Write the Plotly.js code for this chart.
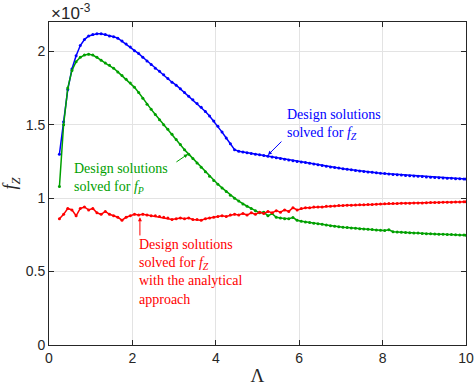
<!DOCTYPE html>
<html><head><meta charset="utf-8">
<script src="https://cdn.plot.ly/plotly-3.0.1.min.js"></script>
<style>html,body{margin:0;padding:0;background:#fff}#chart{width:474px;height:386px}</style>
</head><body><div id="chart"></div>
<script>
const lambda = [0.25,0.35,0.45,0.55,0.65,0.75,0.85,0.95,1.05,1.15,1.25,1.35,1.45,1.55,1.65,1.75,1.85,1.95,2.05,2.15,2.25,2.35,2.45,2.55,2.65,2.75,2.85,2.95,3.05,3.15,3.25,3.35,3.45,3.55,3.65,3.75,3.85,3.95,4.05,4.15,4.25,4.35,4.45,4.55,4.65,4.75,4.85,4.95,5.05,5.15,5.25,5.35,5.45,5.55,5.65,5.75,5.85,5.95,6.05,6.15,6.25,6.35,6.45,6.55,6.65,6.75,6.85,6.95,7.05,7.15,7.25,7.35,7.45,7.55,7.65,7.75,7.85,7.95,8.05,8.15,8.25,8.35,8.45,8.55,8.65,8.75,8.85,8.95,9.05,9.15,9.25,9.35,9.45,9.55,9.65,9.75,9.85,9.95,10.0];
// values in units of 1e-3
const fzSolved = [1.30,1.52,1.74,1.88,1.97,2.04,2.08,2.105,2.115,2.12,2.12,2.115,2.105,2.10,2.09,2.07,2.05,2.03,2.005,1.985,1.96,1.935,1.91,1.885,1.865,1.84,1.815,1.79,1.77,1.745,1.72,1.695,1.67,1.645,1.62,1.59,1.56,1.525,1.49,1.45,1.41,1.37,1.33,1.32,1.315,1.31,1.305,1.30,1.295,1.29,1.285,1.28,1.275,1.27,1.265,1.26,1.255,1.25,1.247,1.243,1.238,1.233,1.228,1.223,1.218,1.213,1.209,1.205,1.201,1.197,1.193,1.189,1.185,1.182,1.179,1.176,1.173,1.170,1.168,1.165,1.162,1.160,1.158,1.155,1.153,1.151,1.149,1.147,1.145,1.143,1.141,1.139,1.138,1.136,1.135,1.133,1.132,1.131,1.13];
const fpSolved = [1.08,1.50,1.75,1.87,1.93,1.96,1.975,1.98,1.975,1.96,1.94,1.92,1.905,1.885,1.86,1.835,1.81,1.785,1.755,1.72,1.68,1.64,1.605,1.57,1.535,1.50,1.47,1.435,1.40,1.365,1.33,1.30,1.27,1.24,1.21,1.18,1.15,1.12,1.095,1.07,1.045,1.02,1.00,0.98,0.96,0.945,0.93,0.915,0.90,0.905,0.88,0.895,0.87,0.865,0.86,0.86,0.868,0.85,0.843,0.838,0.834,0.83,0.826,0.822,0.818,0.813,0.808,0.805,0.802,0.80,0.797,0.795,0.792,0.79,0.788,0.786,0.784,0.782,0.78,0.785,0.772,0.77,0.768,0.766,0.765,0.763,0.762,0.76,0.758,0.757,0.756,0.755,0.754,0.753,0.752,0.751,0.75,0.749,0.748];
const fzAnalytical = [0.86,0.89,0.93,0.92,0.88,0.93,0.94,0.92,0.93,0.90,0.89,0.91,0.89,0.88,0.87,0.85,0.87,0.88,0.89,0.885,0.89,0.885,0.88,0.88,0.875,0.87,0.865,0.855,0.86,0.865,0.86,0.865,0.855,0.855,0.85,0.86,0.865,0.87,0.875,0.88,0.875,0.885,0.89,0.885,0.895,0.885,0.90,0.89,0.905,0.895,0.91,0.90,0.915,0.905,0.92,0.91,0.935,0.92,0.93,0.935,0.935,0.94,0.94,0.94,0.945,0.945,0.947,0.95,0.95,0.952,0.952,0.954,0.955,0.956,0.957,0.957,0.958,0.96,0.962,0.963,0.963,0.964,0.965,0.966,0.966,0.967,0.968,0.968,0.969,0.97,0.97,0.971,0.972,0.972,0.973,0.974,0.974,0.975,0.976];
const yTicks = [0,0.5,1,1.5,2];
const yTickText = ['0','0.5','1','1.5','2'];
const xTicks = [0,2,4,6,8,10];

const BLUE='#0000ff', GREEN='#00a000', RED='#ff0000';
function tr(y,c){return {x:lambda,y:y,type:'scatter',mode:'lines+markers',line:{color:c,width:1.5},marker:{color:c,size:3},showlegend:false,hoverinfo:'skip'};}
const data=[tr(fzSolved,BLUE),tr(fpSolved,GREEN),tr(fzAnalytical,RED)];

const serif='"Liberation Serif", "Times New Roman", serif';
const sans='"Liberation Sans", Arial, sans-serif';
function txt(x,y,t,c){return {x:x,y:y,xref:'x',yref:'y',text:t,showarrow:false,xanchor:'left',yanchor:'top',align:'left',font:{family:serif,size:14,color:c}};}
function arr(x,y,ax,ay,c){return {x:x,y:y,ax:ax,ay:ay,xref:'x',yref:'y',axref:'x',ayref:'y',text:'',showarrow:true,arrowhead:2,arrowsize:0.8,arrowwidth:1,arrowcolor:c};}

const layout={
  width:474,height:386,
  margin:{l:49,r:8,t:22,b:41},
  paper_bgcolor:'#fff',plot_bgcolor:'#fff',
  font:{family:sans,size:14,color:'#262626'},
  xaxis:{range:[0,10],tickvals:xTicks,ticks:'inside',ticklen:5,tickcolor:'#262626',showline:true,linecolor:'#262626',linewidth:1,mirror:'ticks',
    showgrid:true,gridcolor:'#e3e3e3',zeroline:false,
    title:{text:'Λ',font:{family:serif,size:19,color:'#262626'},standoff:4}},
  yaxis:{range:[0,2.2],tickvals:yTicks,ticktext:yTickText,ticks:'inside',ticklen:5,tickcolor:'#262626',showline:true,linecolor:'#262626',linewidth:1,mirror:'ticks',
    showgrid:true,gridcolor:'#e3e3e3',zeroline:false,
    title:{text:'<i>f</i><sub><i>Z</i></sub>',font:{family:serif,size:18,color:'#262626'},standoff:8}},
  annotations:[
    {x:0,y:1,xref:'paper',yref:'paper',xanchor:'left',yanchor:'bottom',yshift:-3,text:'×10<sup>-3</sup>',showarrow:false,font:{family:sans,size:17,color:'#262626'}},
    txt(5.66,1.635,'Design solutions<br>solved for <i>f<sub>Z</sub></i>',BLUE),
    arr(5.25,1.294,5.61,1.396,BLUE),
    txt(0.55,1.27,'Design solutions<br>solved for <i>f<sub>P</sub></i>',GREEN),
    arr(3.33,1.30,3.02,1.24,GREEN),
    txt(2.11,0.75,'Design solutions<br>solved for <i>f<sub>Z</sub></i><br>with the analytical<br>approach',RED),
    arr(2.18,0.87,2.18,0.736,RED)
  ]
};
Plotly.newPlot('chart',data,layout,{displayModeBar:false,staticPlot:true});
</script></body></html>
